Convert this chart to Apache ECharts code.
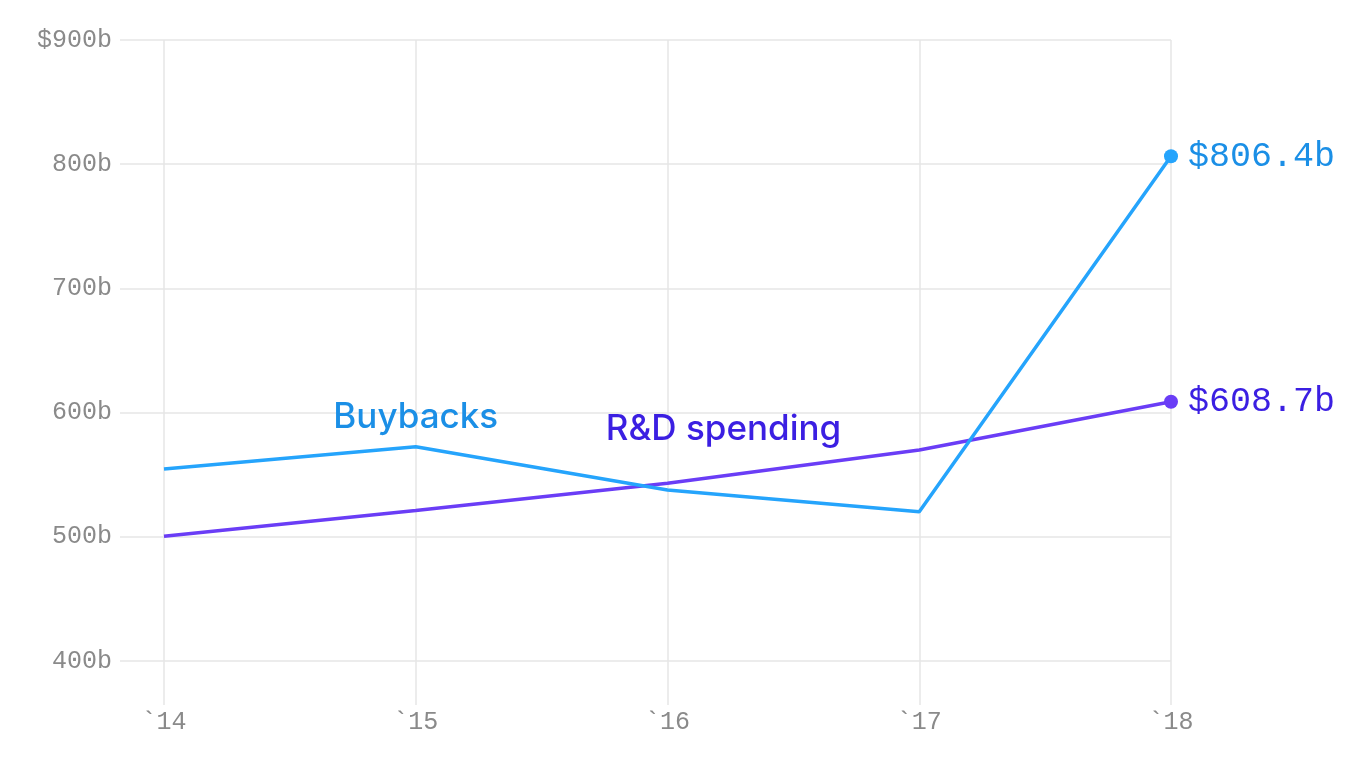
<!DOCTYPE html>
<html>
<head>
<meta charset="utf-8">
<script src="https://cdn.jsdelivr.net/npm/echarts@6/dist/echarts.min.js"></script>
<style>
html,body{margin:0;padding:0;background:#fff;}
#chart{width:1366px;height:768px;}
</style>
</head>
<body>
<div id="chart"></div>
<script>
const years = ['`14', '`15', '`16', '`17', '`18'];
const buybacks = [554.6, 572.5, 537.7, 520.2, 806.4];
const rdSpending = [500.4, 521.1, 543.1, 569.9, 608.7];
const yTicks = [400, 500, 600, 700, 800, 900];
const seriesNames = ['Buybacks', 'R&D spending'];

const gridColor = '#e6e6e6';
const labelGray = '#8a8a8a';
const monoFont = '"Liberation Mono", "DejaVu Sans Mono", monospace';
const nameFont = 'Inter, Lato, sans-serif';

function withEndPoint(values, color, textColor) {
  return values.map((v, i) => {
    if (i === values.length - 1) {
      return {
        value: v,
        symbol: 'circle',
        symbolSize: 14,
        itemStyle: { color: color },
        label: {
          show: true,
          position: 'right',
          distance: 10,
          formatter: '$' + v.toFixed(1) + 'b',
          fontFamily: monoFont,
          fontSize: 35,
          color: textColor
        }
      };
    }
    return { value: v, symbol: 'none' };
  });
}

const chart = echarts.init(document.getElementById('chart'));
chart.setOption({
  animation: false,
  backgroundColor: '#ffffff',
  grid: [
    { left: 120, right: 195, top: 40, bottom: 107 },
    { left: 164, right: 195, top: 40, bottom: 107 }
  ],
  xAxis: [
    { gridIndex: 0, type: 'value', show: false, min: 0, max: 1 },
    {
      gridIndex: 1,
      type: 'category',
      data: years,
      boundaryGap: false,
      axisLine: { show: false },
      axisTick: { show: true, length: 44, lineStyle: { color: gridColor, width: 1.5 } },
      axisLabel: { margin: 49, color: labelGray, fontFamily: monoFont, fontSize: 25 },
      splitLine: { show: true, lineStyle: { color: gridColor, width: 1.5 } }
    }
  ],
  yAxis: [
    {
      gridIndex: 0,
      type: 'value',
      min: 400, max: 900, interval: 100,
      axisLine: { show: false },
      axisTick: { show: false },
      axisLabel: {
        margin: 8,
        color: labelGray,
        fontFamily: monoFont,
        fontSize: 25,
        formatter: v => (v === yTicks[yTicks.length - 1] ? '$' + v + 'b' : v + 'b')
      },
      splitLine: { show: true, lineStyle: { color: gridColor, width: 1.5 } }
    },
    {
      gridIndex: 1,
      type: 'value',
      min: 400, max: 900, interval: 100,
      show: false,
      splitLine: { show: false }
    }
  ],
  series: [
    {
      name: seriesNames[0],
      type: 'line',
      xAxisIndex: 1, yAxisIndex: 1,
      data: withEndPoint(buybacks, '#25a4fc', '#1b8fe6'),
      lineStyle: { color: '#25a4fc', width: 3.5 },
      itemStyle: { color: '#25a4fc' },
      z: 4,
      markPoint: {
        symbol: 'circle', symbolSize: 0,
        data: [{ coord: [years[1], buybacks[1]], value: seriesNames[0] }],
        label: {
          show: true, formatter: seriesNames[0], offset: [0, -29],
          fontFamily: nameFont, fontWeight: 500,
          fontSize: 35, color: '#1b8fe6'
        }
      }
    },
    {
      name: seriesNames[1],
      type: 'line',
      xAxisIndex: 1, yAxisIndex: 1,
      data: withEndPoint(rdSpending, '#6a3df6', '#3b1fe2'),
      lineStyle: { color: '#6a3df6', width: 3.5 },
      itemStyle: { color: '#6a3df6' },
      z: 3,
      markPoint: {
        symbol: 'circle', symbolSize: 0,
        data: [{ coord: [years[2], rdSpending[2]], value: seriesNames[1] }],
        label: {
          show: true, formatter: seriesNames[1], offset: [56, -54],
          fontFamily: nameFont, fontWeight: 500,
          fontSize: 35, color: '#3b1fe2'
        }
      }
    }
  ]
});
</script>
</body>
</html>
